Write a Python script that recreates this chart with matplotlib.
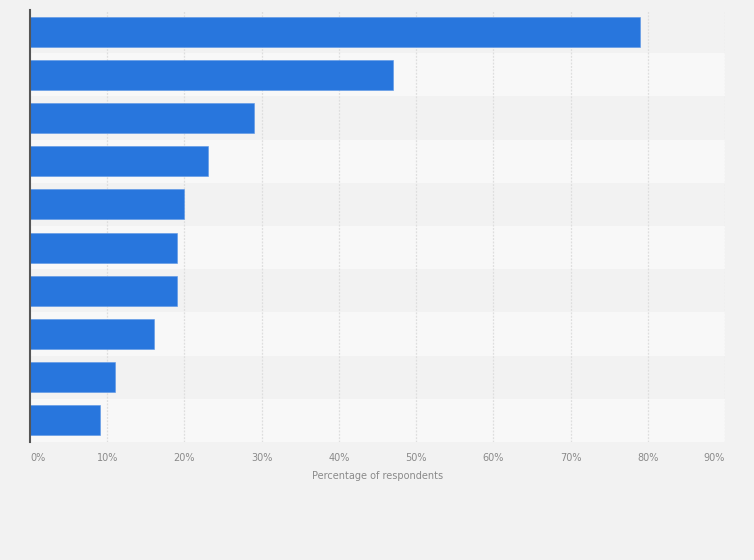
import matplotlib
matplotlib.use("Agg")
import matplotlib.pyplot as plt
import numpy as np

# Data (percentage of respondents), top to bottom
values = [79, 47, 29, 23, 20, 19, 19, 16, 11, 9]
x_ticks = [0, 10, 20, 30, 40, 50, 60, 70, 80, 90]
x_tick_labels = ["0%", "10%", "20%", "30%", "40%", "50%", "60%", "70%", "80%", "90%"]
x_label = "Percentage of respondents"

BG = "#f2f2f2"
BAND_LIGHT = "#f8f8f8"
BAR = "#2876dd"

fig = plt.figure(figsize=(7.54, 5.60), dpi=100, facecolor=BG)
ax = fig.add_axes([30/754, 1 - 442/560, (725-30)/754, (442-10)/560])
ax.set_facecolor(BG)

n = len(values)
pos = np.arange(n)
for i in pos:
    if i % 2 == 1:
        ax.axhspan(i - 0.5, i + 0.5, color=BAND_LIGHT, zorder=0, lw=0)

ax.barh(pos, values, height=0.69, color=BAR, edgecolor="#5b96e6", linewidth=0.4, zorder=3)

ax.set_xlim(0, 90)
ax.set_ylim(n - 0.5, -0.5)
ax.set_yticks([])
ax.set_xticks(x_ticks)
ax.set_xticklabels(x_tick_labels, fontsize=7, color="#8a8a8a")
ax.tick_params(axis="x", length=0, pad=8)
labels = ax.get_xticklabels()
labels[0].set_horizontalalignment("left")
labels[-1].set_horizontalalignment("right")

for t in x_ticks[1:]:
    ax.axvline(t, color="#dedede", lw=0.9, ls=(0, (1.5, 1.2)), zorder=1)

for s in ["top", "right", "bottom"]:
    ax.spines[s].set_visible(False)
ax.spines["left"].set_color("#555555")
ax.spines["left"].set_linewidth(1.5)
ax.spines["left"].set_zorder(5)

ax.set_xlabel(x_label, fontsize=7, color="#8a8a8a", labelpad=6)

fig.savefig("out.png", dpi=100, facecolor=BG)
